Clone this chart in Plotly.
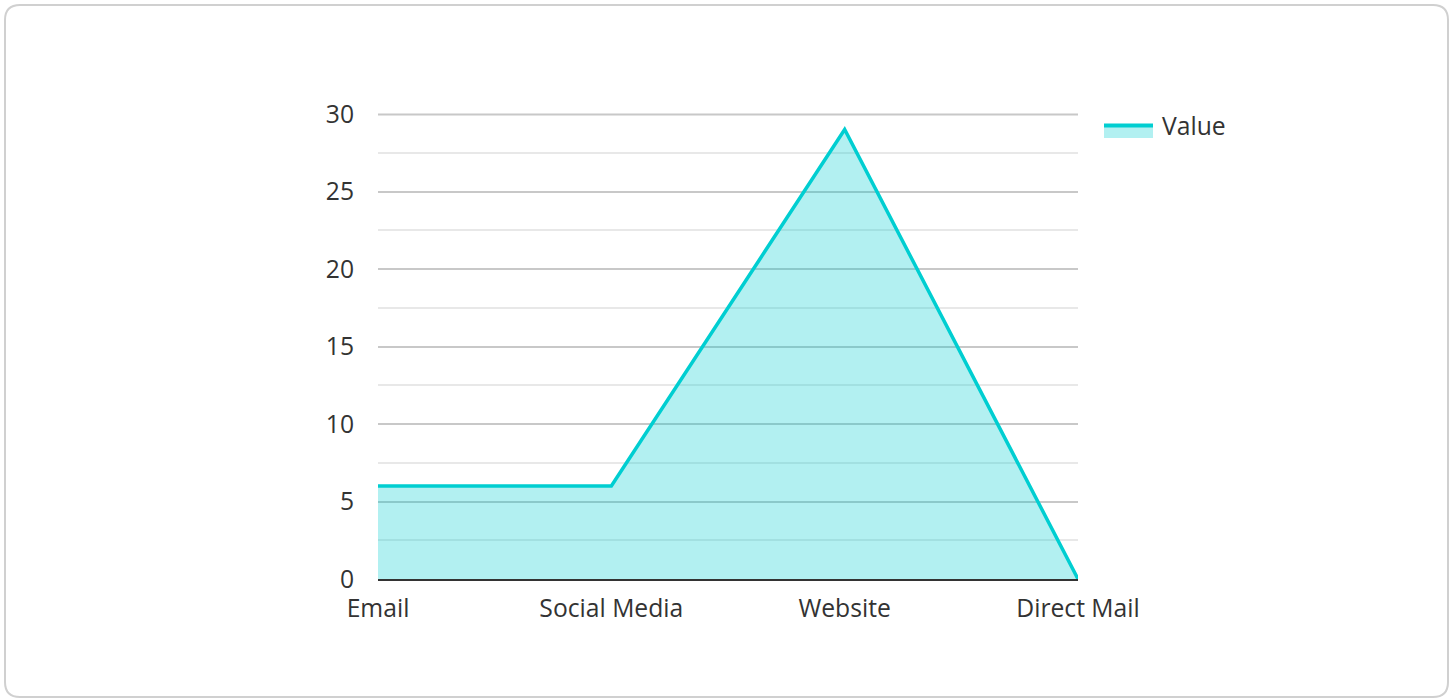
import plotly.graph_objects as go

categories = ["Email", "Social Media", "Website", "Direct Mail"]
values = [6, 6, 29, 0]
series_name = "Value"
y_ticks = [0, 5, 10, 15, 20, 25, 30]

W, H = 1455, 700
ML, MR, MT, MB = 378, 377, 114, 121
PW, PH = W - ML - MR, H - MT - MB

def px(x):
    return (x - ML) / PW

def py(y):
    return (H - MB - y) / PH

# rounded card path in paper coords
x0, x1, y0, y1, r = 5, 1448, 5, 697, 15
pts = (
    f"M {px(x0+r)},{py(y0)} L {px(x1-r)},{py(y0)} "
    f"Q {px(x1)},{py(y0)} {px(x1)},{py(y0+r)} "
    f"L {px(x1)},{py(y1-r)} Q {px(x1)},{py(y1)} {px(x1-r)},{py(y1)} "
    f"L {px(x0+r)},{py(y1)} Q {px(x0)},{py(y1)} {px(x0)},{py(y1-r)} "
    f"L {px(x0)},{py(y0+r)} Q {px(x0)},{py(y0)} {px(x0+r)},{py(y0)} Z"
)

LINE_COLOR = "#00CED1"
FILL_COLOR = "rgba(0,206,209,0.3)"
FS = 24.7

fig = go.Figure()
fig.add_trace(go.Scatter(
    x=categories, y=values, name=series_name, mode="lines",
    line=dict(color=LINE_COLOR, width=3.5),
    fill="tozeroy", fillcolor=FILL_COLOR,
    showlegend=False,
))

shapes = [
    dict(type="path", xref="paper", yref="paper", path=pts,
         line=dict(color="#d0d0d0", width=2), fillcolor="rgba(0,0,0,0)", layer="below"),
    # top gridline (at the range edge)
    dict(type="line", xref="paper", yref="paper", x0=0, x1=1, y0=py(114.5), y1=py(114.5),
         line=dict(color="#c8c8c8", width=2), layer="below"),
    # legend swatch
    dict(type="rect", xref="paper", yref="paper",
         x0=px(1104), x1=px(1153), y0=py(138), y1=py(125),
         line=dict(width=0), fillcolor=FILL_COLOR),
    dict(type="line", xref="paper", yref="paper",
         x0=px(1104), x1=px(1153), y0=py(125.5), y1=py(125.5),
         line=dict(color=LINE_COLOR, width=4)),
]

fig.update_layout(
    width=W, height=H,
    margin=dict(l=ML, r=MR, t=MT, b=MB),
    paper_bgcolor="white", plot_bgcolor="white",
    font=dict(family="Open Sans", size=FS, color="#333333"),
    showlegend=False,
    shapes=shapes,
    annotations=[dict(text=series_name, xref="paper", yref="paper",
                      x=px(1160), y=py(126), xanchor="left", yanchor="middle",
                      showarrow=False, font=dict(size=FS, color="#333333"))],
    xaxis=dict(type="category", range=[0, 3], showgrid=False, zeroline=False,
               showline=True, linecolor="#333333", linewidth=2,
               ticks="", ticklabelstandoff=6,
               tickfont=dict(size=FS, color="#333333")),
    yaxis=dict(range=[0, 30], tickvals=y_ticks,
               showgrid=True, gridcolor="#c8c8c8", gridwidth=1.5,
               zeroline=False, showline=False, ticks="",
               ticklabelstandoff=23,
               minor=dict(dtick=2.5, showgrid=True, gridcolor="#e8e8e8", gridwidth=1.5),
               tickfont=dict(size=FS, color="#333333")),
)

fig.write_html("out.html")
